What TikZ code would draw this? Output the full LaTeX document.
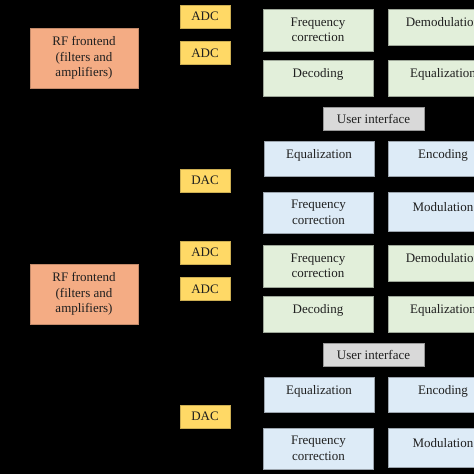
\documentclass[tikz,border=0pt]{standalone}
\usepackage{fontspec}
\setmainfont{Liberation Serif}
\usetikzlibrary{positioning}

\definecolor{rfcol}{HTML}{F4AC84}
\definecolor{adccol}{HTML}{FFD966}
\definecolor{rxcol}{HTML}{E2EFDA}
\definecolor{txcol}{HTML}{DDEBF7}
\definecolor{uicol}{HTML}{D9D9D9}

\begin{document}
\begin{tikzpicture}
  [
    x=1pt, y=-1pt,
    box/.style =
      {inner sep=0pt, align=center, line width=0.5pt, text=black!88,
       font=\fontsize{13}{15.5}\selectfont},
    rfblock/.style =
      {box, draw=rfcol!80!black, fill=rfcol, minimum width=108pt, minimum height=60pt},
    conv/.style =
      {box, draw=adccol!80!black, fill=adccol, minimum width=50pt, minimum height=23pt},
    rxblock/.style =
      {box, draw=rxcol!70!black, fill=rxcol, minimum width=110pt},
    txblock/.style =
      {box, draw=txcol!70!black, fill=txcol, minimum width=110pt},
    uiblock/.style =
      {box, draw=uicol!70!black, fill=uicol, minimum width=101pt, minimum height=23pt},
    oneline/.style =
      {text height=9pt, text depth=10pt}
  ]

\fill[black] (0,0) rectangle (474,474);
\useasboundingbox (0,0) rectangle (474,474);
\clip (0,0) rectangle (474,474);

% two identical transceiver chains
\foreach \n/\dy in {1/0, 2/236} {
  \node[rfblock] (rf\n) at (84,58+\dy) {RF frontend\\(filters and\\amplifiers)};

  \node[conv] (adca\n) at (205,16.5+\dy) {ADC};
  \node[conv] (adcb\n) at (205,53+\dy) {ADC};
  \node[conv] (dac\n) at (205,180.5+\dy) {DAC};

  % receive side
  \node[rxblock, minimum height=42pt] (fcrx\n) at (318,30+\dy) {Frequency\\correction};
  \node[rxblock, oneline, minimum height=36pt] (demod\n) at (443,27+\dy) {Demodulation};
  \node[rxblock, oneline, minimum height=36pt] (dec\n) at (318,78+\dy) {Decoding};
  \node[rxblock, oneline, minimum height=36pt] (eqrx\n) at (443,78+\dy) {Equalization};

  \node[uiblock] (ui\n) at (373.5,118.5+\dy) {User interface};

  % transmit side
  \node[txblock, oneline, minimum height=35pt] (eqtx\n) at (319,158.5+\dy) {Equalization};
  \node[txblock, oneline, minimum height=35pt] (enc\n) at (443,158.5+\dy) {Encoding};
  \node[txblock, minimum height=41pt] (fctx\n) at (318.5,212.5+\dy) {Frequency\\correction};
  \node[txblock, oneline, minimum height=39pt] (mod\n) at (443,211.5+\dy) {Modulation};
}

\end{tikzpicture}
\end{document}
